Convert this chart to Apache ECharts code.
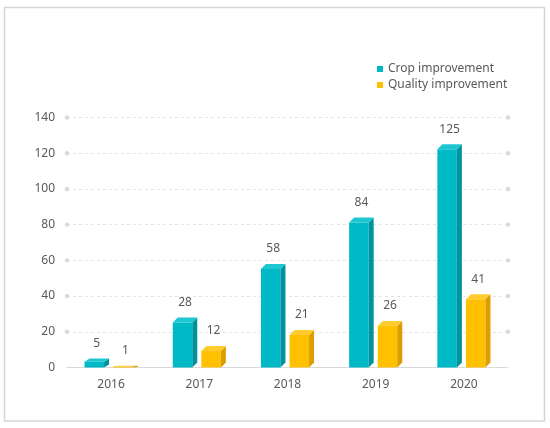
<!DOCTYPE html>
<html>
<head>
<meta charset="utf-8">
<script src="https://cdn.jsdelivr.net/npm/echarts@6/dist/echarts.min.js"></script>
<style>
  html, body { margin: 0; padding: 0; background: #fff; }
  #chart { width: 550px; height: 428px; }
</style>
</head>
<body>
<div id="chart"></div>
<script>
var years = ['2016', '2017', '2018', '2019', '2020'];
var cropValues = [5, 28, 58, 84, 125];
var qualityValues = [1, 12, 21, 26, 41];
var yTicks = [20, 40, 60, 80, 100, 120, 140];

var FONT = '"Noto Sans", sans-serif';
var textGray = '#595959';

// 3D-looking bar: front face, right side face and top face
function bar3d(offset, front, side, top) {
  return function (params, api) {
    var idx = api.value(0);
    var val = api.value(1);
    var base = api.coord([idx, 0]);
    var yv = api.coord([idx, val])[1];
    var y0 = base[1];
    var w = 19.5, d = 5;
    var dy = Math.min(5, (y0 - yv) * 0.35);
    var x0 = base[0] + offset - (w + d) / 2;
    var ft = yv + dy;
    return {
      type: 'group',
      children: [
        { type: 'rect', shape: { x: x0, y: ft, width: w, height: y0 - ft }, style: { fill: front } },
        { type: 'polygon', shape: { points: [[x0 + w, ft], [x0 + w + d, yv], [x0 + w + d, y0 - dy], [x0 + w, y0]] }, style: { fill: side } },
        { type: 'polygon', shape: { points: [[x0, ft], [x0 + d, yv], [x0 + w + d, yv], [x0 + w, ft]] }, style: { fill: top } },
        { type: 'text', x: x0 + (w + d) / 2, y: yv - 15,
          style: { text: String(val), fill: textGray, font: '12px ' + FONT, align: 'center', verticalAlign: 'middle' } }
      ]
    };
  };
}

var chart = echarts.init(document.getElementById('chart'));

var option = {
  animation: false,
  textStyle: { fontFamily: FONT },
  graphic: [{
    type: 'rect',
    shape: { x: 4.5, y: 7.5, width: 540, height: 413.5 },
    style: { fill: 'none', stroke: '#d6d6d6', lineWidth: 1.5 }
  }],
  legend: {
    orient: 'vertical',
    left: 377,
    top: 61,
    padding: 0,
    icon: 'rect',
    itemWidth: 6,
    itemHeight: 6,
    itemGap: 0,
    data: ['Crop improvement', 'Quality improvement'],
    textStyle: { color: textGray, fontSize: 12, lineHeight: 16, fontFamily: FONT }
  },
  grid: { left: 67, right: 42, top: 117.5, bottom: 60.5 },
  xAxis: {
    type: 'category',
    data: years,
    axisLine: { lineStyle: { color: '#d9d9d9', width: 1 } },
    axisTick: { show: false },
    axisLabel: { color: textGray, fontSize: 12, margin: 11, fontFamily: FONT }
  },
  yAxis: {
    type: 'value',
    min: 0,
    max: 140,
    interval: 20,
    axisLine: { show: false },
    axisTick: { show: false },
    axisLabel: { color: textGray, fontSize: 12, margin: 12, fontFamily: FONT },
    splitLine: { lineStyle: { color: '#e3e3e3', type: [3, 3] } }
  },
  series: [
    {
      name: 'Crop improvement',
      type: 'custom',
      itemStyle: { color: '#00B9C6' },
      renderItem: bar3d(-14.3, '#00B9C6', '#00939E', '#1DC6D1'),
      data: cropValues.map(function (v, i) { return [i, v]; }),
      z: 3
    },
    {
      name: 'Quality improvement',
      type: 'custom',
      itemStyle: { color: '#FFC000' },
      renderItem: bar3d(14.3, '#FFC000', '#DB9D00', '#FFCB2E'),
      data: qualityValues.map(function (v, i) { return [i, v]; }),
      z: 3
    },
    {
      // small dots at both ends of each gridline
      name: 'grid dots',
      type: 'custom',
      silent: true,
      renderItem: function (params, api) {
        var cs = params.coordSys;
        var y = api.coord([0, api.value(1)])[1];
        return {
          type: 'group',
          children: [
            { type: 'circle', shape: { cx: cs.x, cy: y, r: 2.2 }, style: { fill: '#dadada' } },
            { type: 'circle', shape: { cx: cs.x + cs.width, cy: y, r: 2.2 }, style: { fill: '#dadada' } }
          ]
        };
      },
      data: yTicks.map(function (t) { return [0, t]; }),
      z: 2
    }
  ]
};

chart.setOption(option);
window.onresize = function () { chart.resize(); };
</script>
</body>
</html>
